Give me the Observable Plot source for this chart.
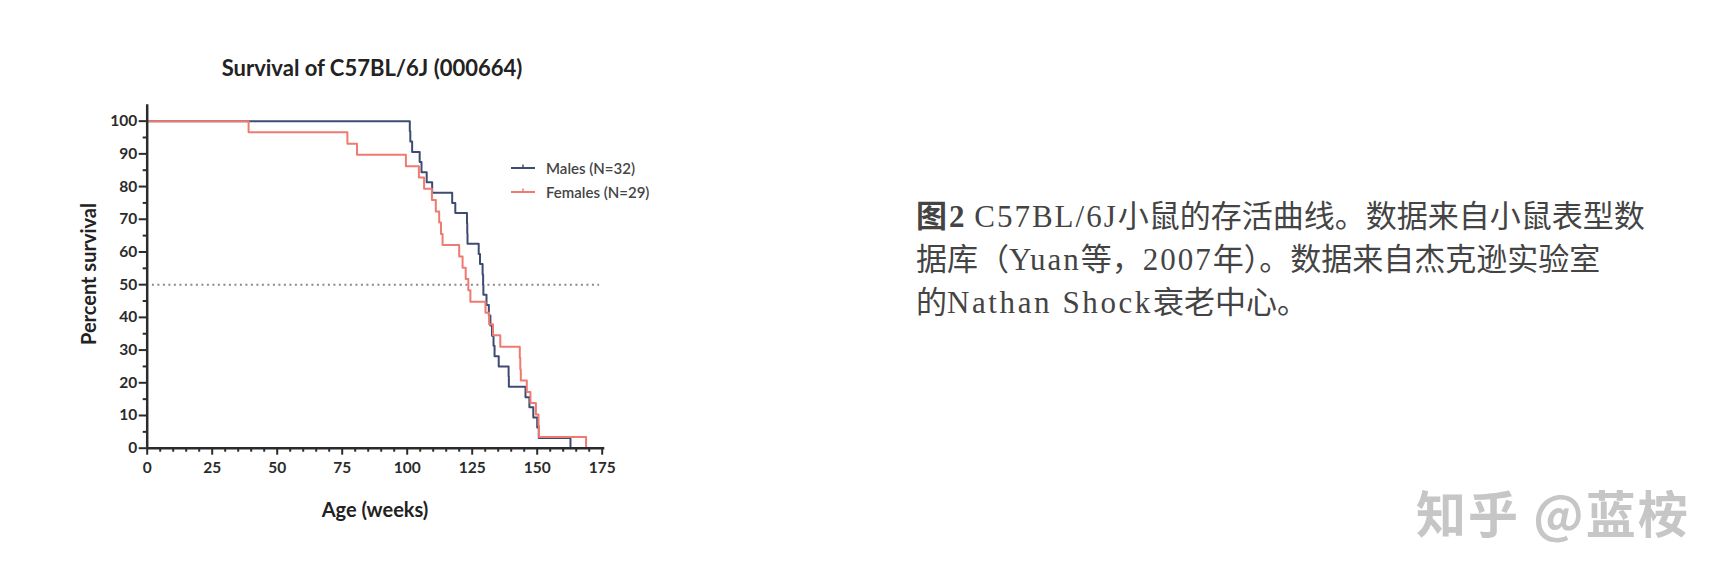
<!DOCTYPE html>
<html>
<head>
<meta charset="utf-8">
<script src="https://cdn.jsdelivr.net/npm/d3@7"></script>
<script src="https://cdn.jsdelivr.net/npm/@observablehq/plot@0.6"></script>
<style>
  html, body { margin: 0; padding: 0; background: #fff; }
  #page { position: relative; width: 1731px; height: 580px; overflow: hidden; background: #fff; }
  #chart { position: absolute; left: 0; top: 0; }
  .title { position: absolute; left: 372px; top: 54px; transform: translateX(-50%); font: bold 22px Lato, "Open Sans", sans-serif; color: #222; white-space: nowrap; }
  .ylab { position: absolute; left: 88px; top: 274px; transform: translate(-50%, -50%) rotate(-90deg); font: bold 20px Lato, sans-serif; color: #222; white-space: nowrap; }
  .xlab { position: absolute; left: 375px; top: 497px; transform: translateX(-50%); font: bold 20px Lato, sans-serif; color: #222; white-space: nowrap; }
  .legend { position: absolute; left: 511px; top: 156px; font: 600 15px Lato, sans-serif; color: #444; }
  .legend .row { display: flex; align-items: center; height: 24px; }
  .legend svg { margin-right: 11px; }
  .caption { position: absolute; left: 916px; top: 195px; font-size: 31px; line-height: 43px; color: #444; font-family: "Liberation Serif", "Noto Sans CJK SC", serif; white-space: nowrap; }
  .caption b { font-family: "Liberation Serif", "Noto Sans CJK SC", serif; font-weight: bold; letter-spacing: 2px; }
  .caption .lt { letter-spacing: 2px; }
  .caption .lw { letter-spacing: 2.6px; }
  .mark { position: absolute; left: 1416px; top: 486px; font: bold 50px "Noto Sans CJK SC", sans-serif; color: #c6c6c6; line-height: 1; white-space: nowrap; letter-spacing: 2px; }
</style>
</head>
<body>
<div id="page">
  <div id="chart"></div>
  <div class="title">Survival of C57BL/6J (000664)</div>
  <div class="ylab">Percent survival</div>
  <div class="xlab">Age (weeks)</div>
  <div class="legend" id="legend"></div>
  <div class="caption"><b>图2</b> <span class="lt">C57BL/6J</span>小鼠的存活曲线。数据来自小鼠表型数<br>据库（<span class="lt">Yuan</span>等，<span class="lt">2007</span>年）。数据来自杰克逊实验室<br>的<span class="lw">Nathan Shock</span>衰老中心。</div>
  <div class="mark">知乎 @蓝桉</div>
</div>
<script>
// ---- data ----
const seriesNames = ["Males (N=32)", "Females (N=29)"];
const seriesColors = ["#3e4c72", "#ee7a70"];

const maleWeeks = [0, 101, 101.2, 101.9, 104.8, 105.5, 107.5, 109.6, 117.3, 118.5, 123, 123.1, 123.2, 127.5, 128, 129, 129.2, 129.3, 130.5, 131.4, 132, 132.6, 133.2, 133.6, 135.2, 139, 139.1, 145.5, 147, 148.5, 150, 150.6, 162.8];
const malePercent = [100, 96.9, 93.8, 90.6, 87.5, 84.4, 81.3, 78.1, 75, 71.9, 68.8, 65.6, 62.5, 59.4, 56.3, 53.1, 50, 46.9, 43.8, 40.6, 37.5, 34.4, 31.3, 28.1, 25, 21.9, 18.8, 15.6, 12.5, 9.4, 6.3, 3.1, 0];

const femaleWeeks = [0, 39, 77, 80.7, 99.5, 104.5, 106.5, 109.5, 111, 112.3, 113, 113.6, 120, 121.3, 122.5, 123.5, 124.3, 130.1, 131.5, 133, 135.8, 143.3, 143.5, 143.7, 146, 147.4, 149.5, 150.5, 150.7, 168.8];
const femalePercent = [100, 96.6, 93.1, 89.7, 86.2, 82.8, 79.3, 75.9, 72.4, 69, 65.5, 62.1, 58.6, 55.2, 51.7, 48.3, 44.8, 41.4, 37.9, 34.5, 31, 27.6, 24.1, 20.7, 17.2, 13.8, 10.3, 6.9, 3.4, 0];

const medianLine = {percent: 50, fromWeek: 2, toWeek: 174};

const xTicks = [0, 25, 50, 75, 100, 125, 150, 175];
const xMinorTicks = [5, 10, 15, 20, 30, 35, 40, 45, 55, 60, 65, 70, 80, 85, 90, 95, 105, 110, 115, 120, 130, 135, 140, 145, 155, 160, 165, 170];
const yTicks = [0, 10, 20, 30, 40, 50, 60, 70, 80, 90, 100];
const yMinorTicks = [5, 15, 25, 35, 45, 55, 65, 75, 85, 95];

// ---- build tables ----
const males = maleWeeks.map((w, i) => ({week: w, percent: malePercent[i]}));
const females = femaleWeeks.map((w, i) => ({week: w, percent: femalePercent[i]}));

const axisColor = "#2b2b2b";
const chart = Plot.plot({
  width: 700,
  height: 580,
  marginLeft: 146.7,
  marginRight: 95.7,
  marginTop: 104.3,
  marginBottom: 132.3,
  x: {domain: [0, 176]},
  y: {domain: [0, 105]},
  style: {fontFamily: "Lato, sans-serif", background: "transparent", overflow: "visible"},
  marks: [
    Plot.ruleY([medianLine], {y: "percent", x1: "fromWeek", x2: "toWeek", stroke: "#8a8a8a", strokeWidth: 2, strokeDasharray: "2,3.5"}),
    Plot.line(males, {x: "week", y: "percent", curve: "step-after", stroke: seriesColors[0], strokeWidth: 2}),
    Plot.line(females, {x: "week", y: "percent", curve: "step-after", stroke: seriesColors[1], strokeWidth: 2}),
    Plot.ruleX([0], {stroke: axisColor, strokeWidth: 2.5}),
    Plot.ruleY([0], {stroke: axisColor, strokeWidth: 2.5}),
    Plot.axisY(yTicks, {label: null, tickSize: 8, tickPadding: 2, strokeWidth: 2, stroke: axisColor, fill: "#2b2b2b", fontSize: 15.5, fontWeight: "bold"}),
    Plot.axisY(yMinorTicks, {label: null, tickSize: 4, strokeWidth: 2, stroke: axisColor, tickFormat: () => ""}),
    Plot.axisX(xTicks, {label: null, tickSize: 7, tickPadding: 7, strokeWidth: 2, stroke: axisColor, fill: "#2b2b2b", fontSize: 15.5, fontWeight: "bold"}),
    Plot.axisX(xMinorTicks, {label: null, tickSize: 4, strokeWidth: 2, stroke: axisColor, tickFormat: () => ""})
  ]
});
document.getElementById("chart").appendChild(chart);

// legend
const legend = document.getElementById("legend");
seriesNames.forEach((name, i) => {
  const row = document.createElement("div");
  row.className = "row";
  row.innerHTML = `<svg width="24" height="10"><line x1="0" y1="5" x2="24" y2="5" stroke="${seriesColors[i]}" stroke-width="2"/><line x1="12" y1="1.5" x2="12" y2="5" stroke="${seriesColors[i]}" stroke-width="1.5"/></svg><span>${name}</span>`;
  legend.appendChild(row);
});
</script>
</body>
</html>
